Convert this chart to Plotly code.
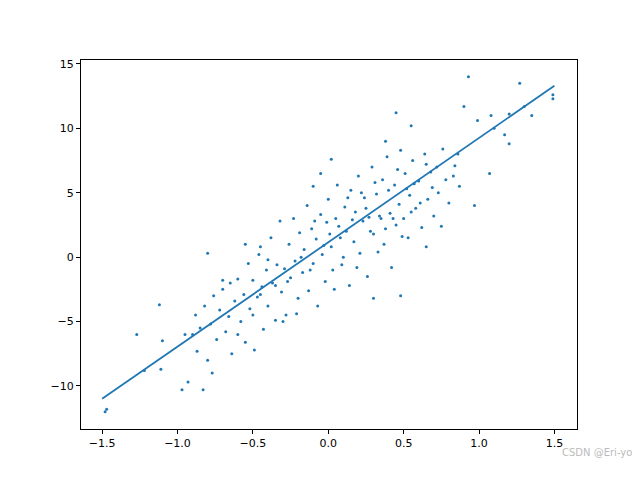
import plotly.graph_objects as go

# scatter points (approximate)
pts_x = [-1.48, -1.47, -1.27, -1.22, -1.12, -1.11, -1.1, -0.97, -0.95, -0.93, -0.87, -0.83, -0.8, -0.77,
         -0.7, -0.55, -0.45, -0.1, -0.05, 0.02, 0.3, 0.38, 0.45, 0.48, 0.55, 0.65, 0.75, 0.9, 0.93,
         0.97, 1.07, 1.1, 1.17, 1.2, 1.27, 1.3, 1.35, 1.49, 1.49, 1.2, 1.08, 0.99, 0.84, 0.87,
         -0.9, -0.88, -0.85, -0.82, -0.8, -0.78, -0.76, -0.74, -0.72, -0.7, -0.68, -0.66, -0.64, -0.62,
         -0.6, -0.58, -0.56, -0.55, -0.53, -0.52, -0.5, -0.49, -0.47, -0.46, -0.44, -0.43, -0.41, -0.4,
         -0.38, -0.37, -0.35, -0.34, -0.32, -0.31, -0.29, -0.28, -0.26, -0.25, -0.23, -0.22, -0.2, -0.19,
         -0.17, -0.16, -0.14, -0.13, -0.11, -0.1, -0.08, -0.07, -0.05, -0.04, -0.02, -0.01, 0.0, 0.02,
         0.03, 0.05, 0.06, 0.08, 0.09, 0.11, 0.12, 0.14, 0.15, 0.17, 0.18, 0.2, 0.21, 0.23, 0.24, 0.26,
         0.27, 0.29, 0.3, 0.32, 0.33, 0.35, 0.36, 0.38, 0.39, 0.41, 0.42, 0.44, 0.45, 0.47, 0.48, 0.5,
         0.51, 0.53, 0.54, 0.56, 0.58, 0.6, 0.62, 0.64, 0.66, 0.68, 0.7, 0.73, 0.76, 0.8, 0.83,
         -0.65, -0.6, -0.5, -0.45, -0.4, -0.35, -0.3, -0.27, -0.21, -0.18, -0.12, -0.09, -0.03, 0.01,
         0.04, 0.07, 0.1, 0.13, 0.16, 0.19, 0.22, 0.25, 0.28, 0.31, 0.34, 0.37, 0.4, 0.43, 0.46, 0.49,
         0.52, 0.55, 0.57, 0.61, 0.65, 0.69, 0.72, 0.78, 0.86]
pts_y = [-12.0, -11.8, -6.0, -8.8, -3.7, -8.7, -6.5, -10.3, -6.0, -9.7, -7.3, -10.3, 0.3, -9.0,
         -1.8, 1.0, 0.8, 5.5, 6.5, 7.6, -3.2, 9.0, 11.2, -3.0, 10.2, 0.8, 2.4, 11.7, 14.0,
         4.0, 6.5, 10.0, 9.5, 11.1, 13.5, 11.7, 11.0, 12.6, 12.3, 8.8, 11.0, 10.6, 7.1, 5.5,
         -6.0, -4.5, -5.5, -3.8, -8.0, -5.2, -3.0, -6.4, -4.1, -2.5, -5.8, -4.6, -7.5, -3.4,
         -1.7, -5.0, -2.9, -6.6, -0.5, -4.0, -1.8, -7.2, -3.1, 0.2, -2.3, -5.6, -1.0, -3.8,
         1.5, -2.0, -4.9, -0.6, 2.8, -2.7, -0.9, -4.5, 1.0, -1.6, 3.0, -0.3, -3.2, 1.9,
         -1.2, 0.6, 4.0, -2.6, 2.2, -0.5, 1.4, -3.8, 3.3, 0.2, -1.9, 2.7, 4.5, 0.8,
         -1.0, 3.0, 5.6, 1.5, -0.6, 3.9, 2.0, -2.2, 5.2, 1.2, 3.5, 6.3, 0.3, 2.8, 4.6, -1.5,
         3.1, 7.0, 1.8, 4.9, 0.4, 3.0, 6.0, 2.2, 7.8, 3.4, -0.8, 5.6, 2.5, 4.1, 8.3, 3.0,
         6.5, 1.5, 4.8, 7.5, 3.8, 5.9, 2.3, 8.0, 4.5, 6.6, 3.2, 5.0, 8.4, 4.2, 6.3,
         -2.0, -6.0, -4.5, -2.9, -0.2, -2.2, -5.0, -1.9, -4.4, 0.0, -1.0, 2.8, 0.9, 1.8,
         -2.5, 2.4, 0.0, 4.6, 2.9, -0.8, 5.0, 3.8, 2.0, 5.8, 3.2, 1.0, 5.2, 3.0, 6.8, 1.6,
         5.3, 3.5, 5.7, 4.2, 7.2, 5.4, 7.0, 6.0, 8.0]

# fitted line ends
line_x = [-1.5, 1.5]
line_y = [-11.0, 13.3]

blue = "#1f77b4"
fig = go.Figure()
fig.add_trace(go.Scatter(x=pts_x, y=pts_y, mode="markers",
                         marker=dict(color=blue, size=3), showlegend=False))
fig.add_trace(go.Scatter(x=line_x, y=line_y, mode="lines",
                         line=dict(color=blue, width=1.8), showlegend=False))

ax = dict(showgrid=False, zeroline=False, showline=True, linecolor="black", linewidth=1,
          mirror=True, ticks="outside", ticklen=4, tickcolor="black")
fig.update_layout(
    width=640, height=480, plot_bgcolor="white", paper_bgcolor="white",
    margin=dict(l=73, r=71, t=52, b=59),
    font=dict(family="DejaVu Sans", size=11, color="black"),
    xaxis=dict(ax, range=[-1.64, 1.65], tickvals=[-1.5, -1.0, -0.5, 0.0, 0.5, 1.0, 1.5],
               ticktext=["−1.5", "−1.0", "−0.5", "0.0", "0.5", "1.0", "1.5"]),
    yaxis=dict(ax, range=[-13.34, 15.3], tickvals=[-10, -5, 0, 5, 10, 15],
               ticktext=["−10", "−5", "0", "5", "10", "15"]),
    annotations=[dict(text="CSDN @Eri-yo", xref="paper", yref="paper", x=1.115, y=-0.085,
                      xanchor="right", showarrow=False, font=dict(size=10, color="#bbbbbb"))],
)
fig.write_html("out.html")
